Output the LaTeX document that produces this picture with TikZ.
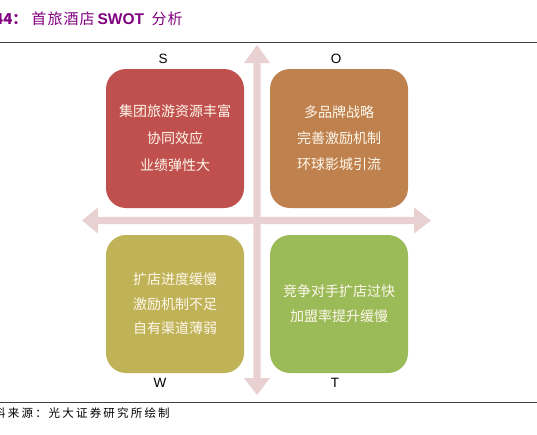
\documentclass[tikz,border=0pt]{standalone}
\usepackage{fontspec}
\setmainfont{Liberation Sans}
\newfontfamily\cjk{Noto Sans CJK SC}
\newfontfamily\cjktitle{Noto Sans CJK SC}[LetterSpace=7]
\newfontfamily\cjksrc{Noto Sans CJK SC}[LetterSpace=19]
\definecolor{sred}{RGB}{192,80,77}
\definecolor{oorange}{RGB}{191,129,78}
\definecolor{wolive}{RGB}{192,178,87}
\definecolor{tgreen}{RGB}{155,187,89}
\definecolor{arrowc}{RGB}{233,208,209}
\definecolor{boxtext}{RGB}{255,248,236}
\definecolor{titlec}{RGB}{128,0,128}
\definecolor{rulec}{RGB}{64,64,64}
\begin{document}
\begin{tikzpicture}[x=1pt,y=-1pt,
  box/.style={rounded corners=20pt, minimum width=138pt, minimum height=139pt,
    inner sep=0pt, text=boxtext, align=center},
  lab/.style={font=\fontsize{13.5}{15}\selectfont, inner sep=0pt},
  rulestyle/.style={draw=rulec, line width=1pt}]
\useasboundingbox (0,0) rectangle (537,434);
% title and rules
\node[anchor=west, inner sep=0pt, text=titlec] (title) at (-6,18.5)
  {\fontsize{15}{16}\selectfont\cjk\textbf{44：}\hspace{4pt}\cjktitle 首旅酒店\hspace{3pt}{\fontsize{15.5}{16}\selectfont\rmfamily\bfseries SWOT}\hspace{3pt} 分析};
\coordinate (r1a) at (0,42); \coordinate (r1b) at (537,42);
\coordinate (r2a) at (0,402); \coordinate (r2b) at (537,402);
\draw[rulestyle] (r1a) -- (r1b);
\draw[rulestyle] (r2a) -- (r2b);
\node[anchor=west, inner sep=0pt] (src) at (-6,413)
  {\fontsize{11.5}{13}\selectfont\cjksrc 料来源：\hspace{2pt}光大证券研究所绘制};
% cross arrows
\fill[arrowc] (257,45) -- (270,63) -- (260.6,63) -- (260.6,378) -- (270,378) -- (257,395)
  -- (244,378) -- (253.4,378) -- (253.4,63) -- (244,63) -- cycle;
\fill[arrowc] (82,220.5) -- (98,207.5) -- (98,216.9) -- (414,216.9) -- (414,207.5) -- (431,220.5)
  -- (414,233.5) -- (414,224.1) -- (98,224.1) -- (98,233.5) -- cycle;
% boxes
\node[box, fill=sred, font=\cjk\fontsize{14}{27}\selectfont] (S) at (175,138.5)
  {集团旅游资源丰富\\协同效应\\业绩弹性大};
\node[box, fill=oorange, font=\cjk\fontsize{14}{26}\selectfont] (O) at (339,138.5)
  {多品牌战略\\完善激励机制\\环球影城引流};
\node[box, fill=wolive, minimum height=138pt, font=\cjk\fontsize{14}{24.5}\selectfont] (W) at (175,304)
  {扩店进度缓慢\\激励机制不足\\自有渠道薄弱};
\node[box, fill=tgreen, minimum height=138pt, font=\cjk\fontsize{14}{25}\selectfont] (T) at (339,304)
  {竞争对手扩店过快\\加盟率提升缓慢};
% labels
\node[lab] (lS) at (163,59) {S};
\node[lab] (lO) at (336,59) {O};
\node[lab] (lW) at (160,383) {W};
\node[lab] (lT) at (335,383) {T};
\end{tikzpicture}
\end{document}
